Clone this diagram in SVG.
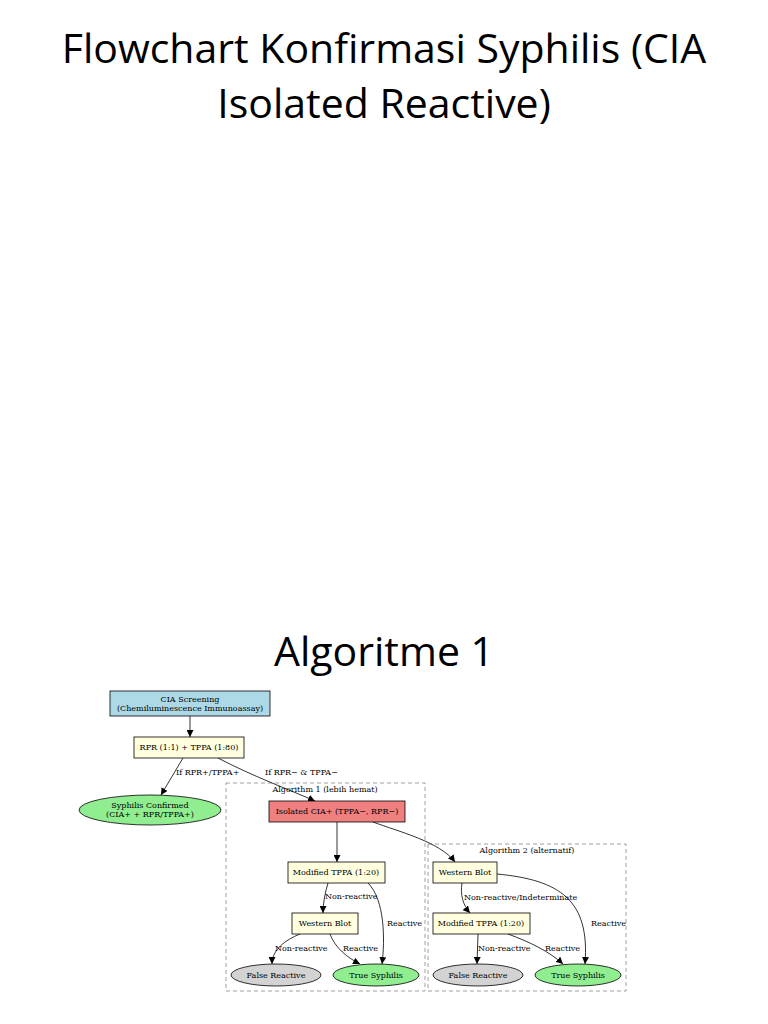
<svg xmlns="http://www.w3.org/2000/svg" width="768" height="1024" viewBox="0 0 768 1024">
<defs>
<style>
.title{font-family:"Open Sans","Noto Sans",sans-serif;font-size:41px;fill:#000;text-anchor:middle}
.t{font-family:"DejaVu Serif","Liberation Serif",serif;font-size:8px;fill:#000;text-anchor:middle}
.l{font-family:"DejaVu Serif","Liberation Serif",serif;font-size:8px;fill:#000}
.box{stroke:#000;stroke-width:0.8}
.cl{fill:none;stroke:#888;stroke-width:0.8;stroke-dasharray:4 3}
.e{fill:none;stroke:#000;stroke-width:0.8;marker-end:url(#ah)}
</style>
<marker id="ah" viewBox="0 0 10 10" refX="10" refY="5" markerWidth="7" markerHeight="7" markerUnits="userSpaceOnUse" orient="auto">
<path d="M0,0 L10,5 L0,10 z" fill="#000"/>
</marker>
</defs>
<rect width="768" height="1024" fill="#fff"/>
<text class="title" x="384" y="63">Flowchart Konfirmasi Syphilis (CIA</text>
<text class="title" x="384" y="118">Isolated Reactive)</text>
<text class="title" x="384" y="666">Algoritme 1</text>

<rect class="cl" x="226" y="783" width="199" height="208"/>
<text class="t" x="325" y="792">Algorithm 1 (lebih hemat)</text>
<rect class="cl" x="428" y="844" width="198" height="147"/>
<text class="t" x="527" y="853">Algorithm 2 (alternatif)</text>

<g id="connectors">
<path class="e" d="M190,716 L190,737"/>
<path class="e" d="M183,758 L161,795"/>
<text class="l" x="176" y="775">If RPR+/TPPA+</text>
<path class="e" d="M218,758 C250,775 290,790 315,801"/>
<text class="l" x="265" y="775">If RPR− &amp; TPPA−</text>
<path class="e" d="M337,822 L337,862"/>
<path class="e" d="M373,822 C400,832 440,842 455,862"/>
<path class="e" d="M328,883 C325,893 323,903 323,913"/>
<text class="l" x="325" y="899">Non-reactive</text>
<path class="e" d="M368,883 C385,900 385,940 382,964"/>
<text class="l" x="387" y="926">Reactive</text>
<path class="e" d="M300,934 C285,940 272,950 272,964"/>
<text class="l" x="275" y="951">Non-reactive</text>
<path class="e" d="M330,934 C335,948 348,958 360,964"/>
<text class="l" x="343" y="951">Reactive</text>
<path class="e" d="M462,883 C460,895 463,905 470,913"/>
<text class="l" x="464" y="900">Non-reactive/Indeterminate</text>
<path class="e" d="M497,874 C560,880 590,900 585,964"/>
<text class="l" x="591" y="926">Reactive</text>
<path class="e" d="M478,934 L477,964"/>
<text class="l" x="478" y="951">Non-reactive</text>
<path class="e" d="M508,934 C530,942 550,952 563,964"/>
<text class="l" x="545" y="951">Reactive</text>
</g>

<g id="cia">
<rect class="box" x="110" y="691" width="160" height="25" fill="#add8e6"/>
<text class="t" x="190" y="702">CIA Screening</text>
<text class="t" x="190" y="711">(Chemiluminescence Immunoassay)</text>
</g>
<g id="rpr">
<rect class="box" x="134" y="737" width="110" height="21" fill="#ffffe0"/>
<text class="t" x="189" y="750">RPR (1:1) + TPPA (1:80)</text>
</g>
<g id="confirmed">
<ellipse class="box" cx="150" cy="810" rx="71" ry="15" fill="#90ee90"/>
<text class="t" x="150" y="808">Syphilis Confirmed</text>
<text class="t" x="150" y="817">(CIA+ + RPR/TPPA+)</text>
</g>
<g id="isolated">
<rect class="box" x="269" y="801" width="136" height="21" fill="#f08080"/>
<text class="t" x="337" y="814">Isolated CIA+ (TPPA−, RPR−)</text>
</g>
<g id="mtppa1">
<rect class="box" x="288" y="862" width="97" height="21" fill="#ffffe0"/>
<text class="t" x="336" y="875">Modified TPPA (1:20)</text>
</g>
<g id="wb1">
<rect class="box" x="292" y="913" width="66" height="21" fill="#ffffe0"/>
<text class="t" x="325" y="926">Western Blot</text>
</g>
<g id="false1">
<ellipse class="box" cx="276" cy="975" rx="45" ry="11" fill="#d3d3d3"/>
<text class="t" x="276" y="978">False Reactive</text>
</g>
<g id="true1">
<ellipse class="box" cx="376" cy="975" rx="43" ry="11" fill="#90ee90"/>
<text class="t" x="376" y="978">True Syphilis</text>
</g>
<g id="wb2">
<rect class="box" x="433" y="862" width="64" height="21" fill="#ffffe0"/>
<text class="t" x="465" y="875">Western Blot</text>
</g>
<g id="mtppa2">
<rect class="box" x="433" y="913" width="97" height="21" fill="#ffffe0"/>
<text class="t" x="481" y="926">Modified TPPA (1:20)</text>
</g>
<g id="false2">
<ellipse class="box" cx="478" cy="975" rx="45" ry="11" fill="#d3d3d3"/>
<text class="t" x="478" y="978">False Reactive</text>
</g>
<g id="true2">
<ellipse class="box" cx="578" cy="975" rx="43" ry="11" fill="#90ee90"/>
<text class="t" x="578" y="978">True Syphilis</text>
</g>
</svg>
